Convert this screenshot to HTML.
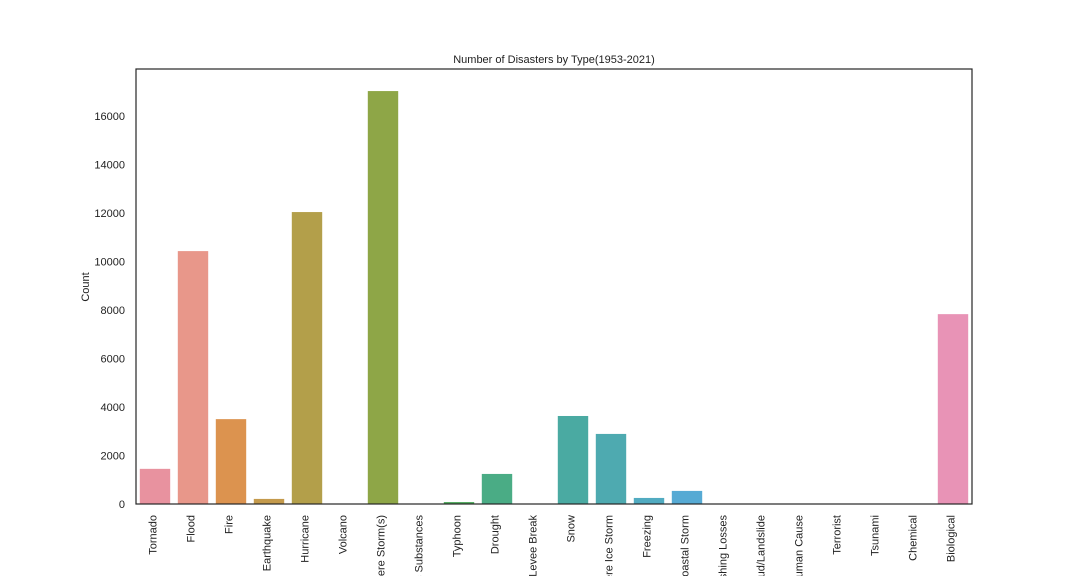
<!DOCTYPE html>
<html><head><meta charset="utf-8"><style>
html,body{margin:0;padding:0;background:#fff;}
svg{display:block;font-family:"Liberation Sans",Arial,sans-serif;}
</style></head><body>
<svg id="chart" width="1080" height="576" viewBox="0 0 1080 576">
<text x="554" y="63" text-anchor="middle" font-size="11" fill="#222">Number of Disasters by Type(1953-2021)</text>
<text transform="translate(89,287) rotate(-90)" text-anchor="middle" font-size="11" fill="#222">Count</text>
<g id="bars"></g><g id="yticks"></g><g id="xticks"></g>
<rect x="136" y="69" width="836" height="435" fill="none" stroke="#262626" stroke-width="1.2"/>
</svg>
<script>
const categories=["Tornado","Flood","Fire","Earthquake","Hurricane","Volcano","Severe Storm(s)","Toxic Substances","Typhoon","Drought","Dam/Levee Break","Snow","Severe Ice Storm","Freezing","Coastal Storm","Fishing Losses","Mud/Landslide","Human Cause","Terrorist","Tsunami","Chemical","Biological"];
const counts=[1450,10430,3500,210,12040,5,17030,3,80,1240,4,3630,2890,250,540,2,3,3,2,2,2,7830];
const colors=["#e8929f","#e8978a","#dc934f","#c49a4c","#b39f4a","#a1a348","#8ea647","#6aaa4c","#4da85b","#4aac85","#4aab95","#4aaaa2","#4eaab0","#51abc1","#56aad4","#7ca3e0","#a69ae0","#c092de","#d68bd8","#e28bc5","#e78fbf","#e893b6"];
const yTicks=[0,2000,4000,6000,8000,10000,12000,14000,16000];
const X0=136,W=836,Y0=504,YMAX=17940;
const band=W/categories.length;
const ys=v=>Y0-v*(435/YMAX);
const NS="http://www.w3.org/2000/svg";
const bars=document.getElementById('bars'),yt=document.getElementById('yticks'),xt=document.getElementById('xticks');
categories.forEach((c,i)=>{
 const r=document.createElementNS(NS,'rect');
 
 
 const x=X0+band*i+band*0.1;
 r.setAttribute('x',x);r.setAttribute('width',band*0.8);
 r.setAttribute('y',ys(counts[i]));r.setAttribute('height',Y0-ys(counts[i]));
 r.setAttribute('fill',colors[i]);bars.appendChild(r);
 const t=document.createElementNS(NS,'text');
 
 
 const cx=X0+band*(i+0.5);
 t.setAttribute('transform','translate('+(cx+1.5)+',515) rotate(-90)');
 t.setAttribute('text-anchor','end');t.setAttribute('font-size','11');t.setAttribute('fill','#222');
 t.textContent=c;xt.appendChild(t);
});
yTicks.forEach(v=>{
 const t=document.createElementNS(NS,'text');
 
 
 t.setAttribute('x',125);t.setAttribute('y',ys(v)+4);
 t.setAttribute('text-anchor','end');t.setAttribute('font-size','11');t.setAttribute('fill','#222');
 t.textContent=v;yt.appendChild(t);
});
</script>
</body></html>
